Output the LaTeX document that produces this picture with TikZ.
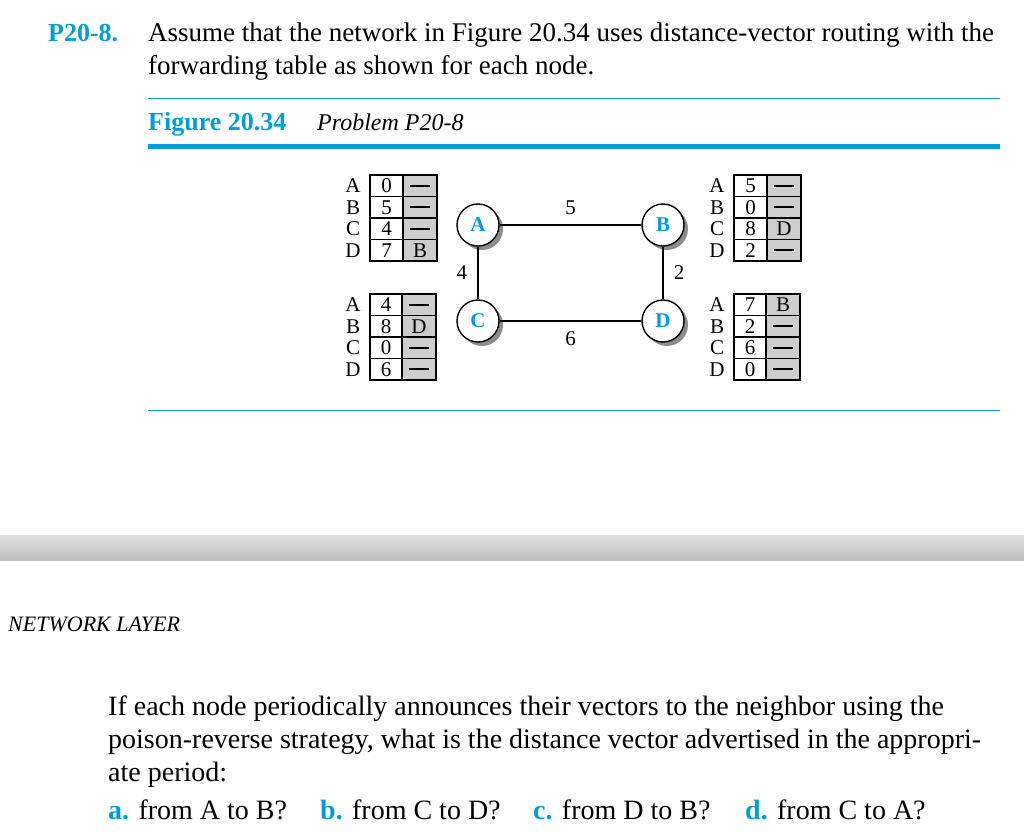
\documentclass[tikz,border=0pt]{standalone}
\usepackage{fontspec}
\setmainfont{Liberation Serif}
\definecolor{pblue}{RGB}{0,158,214}
\definecolor{cellgray}{RGB}{205,205,205}
\def\dashmark{-}
\begin{document}
\begin{tikzpicture}[x=1pt,y=-1pt,
  txt/.style={anchor=base west,inner sep=0pt,font=\fontsize{27}{30}\selectfont},
  btxt/.style={anchor=base west,inner sep=0pt,font=\fontsize{28}{30}\selectfont},
  lbl/.style={inner sep=0pt,font=\fontsize{21}{24}\selectfont},
  rnode/.style={circle,draw,line width=1.4pt,fill=white,minimum size=42pt,inner sep=0pt,text=pblue,font=\fontsize{21}{22}\selectfont\bfseries},
  shadow/.style={circle,fill=black!45,minimum size=42pt,inner sep=0pt},
  edge/.style={line width=1.6pt}]
\useasboundingbox (0,0) rectangle (1024,833);
% header
\node[txt,text=pblue,font=\fontsize{26}{30}\selectfont\bfseries] (p) at (48,41) {P20-8.};
\node[txt] (l1) at (148,41) {Assume that the network in Figure 20.34 uses distance-vector routing with the};
\node[txt] (l2) at (148,74) {forwarding table as shown for each node.};
\draw[pblue,line width=1pt] (148,98) -- (1000,98);
\node[txt,text=pblue,font=\fontsize{26}{30}\selectfont\bfseries] (fig) at (148,130) {Figure 20.34};
\node[txt,font=\fontsize{24}{30}\selectfont\itshape] (prob) at (317,130) {Problem P20-8};
\draw[pblue,line width=5pt] (148,146) -- (1000,146);
% tables
\newcommand{\fwtable}[4]{%
  \fill[cellgray] (#1+#2,#3) rectangle (#1+#2+34,#3+86);
  \draw[line width=1.2pt] (#1,#3) rectangle (#1+#2+34,#3+86);
  \draw[line width=1.2pt] (#1+#2,#3) -- (#1+#2,#3+86);
  \foreach \k in {1,2,3} \draw[line width=1.2pt] (#1,#3+21.5*\k) -- (#1+#2+34,#3+21.5*\k);
  \foreach \r/\n/\v [count=\i from 0] in {#4} {
    \node[lbl] at (#1-17,#3+10.75+21.5*\i) {\r};
    \node[lbl] at (#1+#2/2,#3+10.75+21.5*\i) {\n};
    \ifx\v\dashmark\draw[line width=1.6pt] (#1+#2+7,#3+10.75+21.5*\i) -- (#1+#2+27,#3+10.75+21.5*\i);\else
    \node[lbl] at (#1+#2+17,#3+10.75+21.5*\i) {\v};\fi
  }}
\fwtable{370}{33}{175}{A/0/-,B/5/-,C/4/-,D/7/B}
\fwtable{370}{32}{294}{A/4/-,B/8/D,C/0/-,D/6/-}
\fwtable{734}{33}{175}{A/5/-,B/0/-,C/8/D,D/2/-}
\fwtable{734}{32}{294}{A/7/B,B/2/-,C/6/-,D/0/-}
% graph
\foreach \x/\y in {478/225,663/225,478/321,663/321} \node[shadow] at (\x+4,\y+4) {};
\node[rnode] (A) at (478,225) {A};
\node[rnode] (B) at (663,225) {B};
\node[rnode] (C) at (478,321) {C};
\node[rnode] (D) at (663,321) {D};
\draw[edge] (A) -- node[lbl,above=10pt] (w5) {5} (B);
\draw[edge] (C) -- node[lbl,below=10pt] (w6) {6} (D);
\draw[edge] (A) -- node[lbl,left=10pt] (w4) {4} (C);
\draw[edge] (B) -- node[lbl,right=10pt] (w2) {2} (D);
\draw[pblue,line width=1pt] (148,410) -- (1000,410);
% gray band
\shade[top color=black!12,bottom color=black!25] (0,535) rectangle (1024,560);
\node[txt,font=\fontsize{22}{24}\selectfont\itshape] (nl) at (8,631) {NETWORK LAYER};
\node[btxt] (q1) at (108,715) {If each node periodically announces their vectors to the neighbor using the};
\node[btxt] (q2) at (108,748) {poison-reverse strategy, what is the distance vector advertised in the appropri-};
\node[btxt] (q3) at (108,781) {ate period:};
\node[btxt] (qa) at (108,819) {\textcolor{pblue}{\bfseries a.} from A to B?};
\node[btxt] (qb) at (320,819) {\textcolor{pblue}{\bfseries b.} from C to D?};
\node[btxt] (qc) at (533,819) {\textcolor{pblue}{\bfseries c.} from D to B?};
\node[btxt] (qd) at (745,819) {\textcolor{pblue}{\bfseries d.} from C to A?};
\end{tikzpicture}
\end{document}
